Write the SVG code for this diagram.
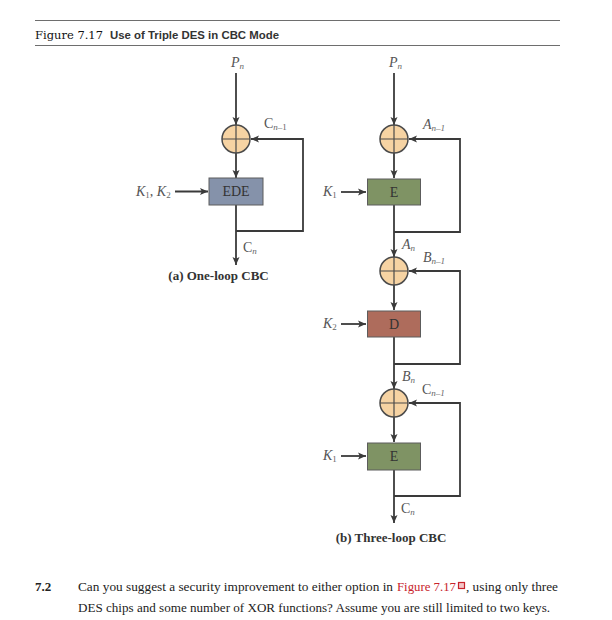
<svg xmlns="http://www.w3.org/2000/svg" width="612" height="620" viewBox="0 0 612 620">
<style>
text{font-family:"Liberation Serif","Times New Roman",serif;fill:#3c3c3c}
.rule{stroke:#6e6e6e;stroke-width:1;fill:none}
.c{fill:none;stroke:#3a3a3a;stroke-width:1.8}
.xor{fill:#f6d3a3;stroke:#4a4a4a;stroke-width:1.5}
.xl{stroke:#4a4a4a;stroke-width:1.2}
.box{stroke:#5c5c5c;stroke-width:1}
.lbl{font-size:14px;font-style:italic;fill:#555}
.lbl2{font-size:14px;fill:#555}
.sub{font-size:9px;fill:#666}
.bt{font-size:13px;font-weight:bold;text-anchor:middle;fill:#333}
.name{font-size:14px;text-anchor:middle;fill:#333}
.body{font-size:13px;fill:#222}
</style>
<defs>
<marker id="a" markerUnits="userSpaceOnUse" markerWidth="9" markerHeight="8" refX="8" refY="4" orient="auto"><path d="M0 0.5L8 4L0 7.5L1.8 4Z" fill="#3a3a3a"/></marker>
</defs>
<g id="header">
<line class="rule" x1="35" y1="20.500" x2="560" y2="20.500"/>
<line class="rule" x1="35" y1="45.500" x2="560" y2="45.500"/>
<text x="35" y="39" style="font-family:'DejaVu Serif',serif;font-size:11px;fill:#111" textLength="68" lengthAdjust="spacingAndGlyphs">Figure 7.17</text>
<text x="110" y="39" style="font-family:'Liberation Sans',sans-serif;font-size:11px;font-weight:bold;fill:#333" textLength="169" lengthAdjust="spacingAndGlyphs">Use of Triple DES in CBC Mode</text>
</g>
<g id="connectors">
<path class="c" marker-end="url(#a)" d="M236 73V125"/>
<path class="c" marker-end="url(#a)" d="M236 153V178"/>
<path class="c" marker-end="url(#a)" d="M175 191.500H208"/>
<path class="c" marker-end="url(#a)" d="M236 205V265"/>
<path class="c" marker-end="url(#a)" d="M236 231H303V139H251"/>
<path class="c" marker-end="url(#a)" d="M394 73V125"/>
<path class="c" marker-end="url(#a)" d="M394 153V178"/>
<path class="c" marker-end="url(#a)" d="M341 192H366"/>
<path class="c" marker-end="url(#a)" d="M394 205V257"/>
<path class="c" marker-end="url(#a)" d="M394 232H460V139H409"/>
<path class="c" marker-end="url(#a)" d="M394 285V310"/>
<path class="c" marker-end="url(#a)" d="M341 324H366"/>
<path class="c" marker-end="url(#a)" d="M394 337V389"/>
<path class="c" marker-end="url(#a)" d="M394 364H460V271H409"/>
<path class="c" marker-end="url(#a)" d="M394 417V442"/>
<path class="c" marker-end="url(#a)" d="M341 456H366"/>
<path class="c" marker-end="url(#a)" d="M394 470V523"/>
<path class="c" marker-end="url(#a)" d="M394 496H460V403H409"/>
</g>
<g id="xor-a">
<circle class="xor" cx="236" cy="139" r="14"/><path class="xl" d="M222 139H250M236 125V153"/>
</g>
<g id="xor-b1">
<circle class="xor" cx="394" cy="139" r="14"/><path class="xl" d="M380 139H408M394 125V153"/>
</g>
<g id="xor-b2">
<circle class="xor" cx="394" cy="271" r="14"/><path class="xl" d="M380 271H408M394 257V285"/>
</g>
<g id="xor-b3">
<circle class="xor" cx="394" cy="403" r="14"/><path class="xl" d="M380 403H408M394 389V417"/>
</g>
<g id="ede">
<rect class="box" x="209" y="178" width="54" height="27" fill="#8592aa"/>
<text class="name" x="236" y="196">EDE</text>
</g>
<g id="e1">
<rect class="box" x="367.500" y="179" width="53" height="26" fill="#7f9364"/>
<text class="name" x="394" y="196.500">E</text>
</g>
<g id="d">
<rect class="box" x="367.500" y="311" width="53" height="26" fill="#ae6c5c"/>
<text class="name" x="394" y="328.500">D</text>
</g>
<g id="e2">
<rect class="box" x="367.500" y="443" width="53" height="27" fill="#7f9364"/>
<text class="name" x="394" y="461">E</text>
</g>
<g id="labels">
<text class="lbl" x="231" y="67">P<tspan class="sub" dy="2">n</tspan></text>
<text class="lbl2" x="264" y="128">C<tspan class="sub" dy="2"><tspan font-style="italic">n</tspan>–1</tspan></text>
<text class="lbl" x="136" y="196">K<tspan class="sub" dy="2" font-style="normal">1</tspan><tspan dy="-2" font-style="normal">, </tspan>K<tspan class="sub" dy="2" font-style="normal">2</tspan></text>
<text class="lbl2" x="243" y="252">C<tspan class="sub" dy="2" font-style="italic">n</tspan></text>
<text class="bt" x="218.500" y="280">(a) One-loop CBC</text>
<text class="lbl" x="389" y="67">P<tspan class="sub" dy="2">n</tspan></text>
<text class="lbl" x="423" y="129">A<tspan class="sub" dy="2">n–1</tspan></text>
<text class="lbl" x="323" y="196">K<tspan class="sub" dy="2" font-style="normal">1</tspan></text>
<text class="lbl" x="402" y="249">A<tspan class="sub" dy="2">n</tspan></text>
<text class="lbl" x="423" y="262">B<tspan class="sub" dy="2">n–1</tspan></text>
<text class="lbl" x="323" y="328">K<tspan class="sub" dy="2" font-style="normal">2</tspan></text>
<text class="lbl" x="402" y="381">B<tspan class="sub" dy="2">n</tspan></text>
<text class="lbl2" x="422" y="394">C<tspan class="sub" dy="2" font-style="italic">n–1</tspan></text>
<text class="lbl" x="323" y="460">K<tspan class="sub" dy="2" font-style="normal">1</tspan></text>
<text class="lbl2" x="401" y="513">C<tspan class="sub" dy="2" font-style="italic">n</tspan></text>
<text class="bt" x="391" y="542">(b) Three-loop CBC</text>
</g>
<g id="question">
<text class="body" x="35" y="591" font-weight="bold">7.2</text>
<text class="body" x="78" y="591" textLength="315" lengthAdjust="spacingAndGlyphs">Can you suggest a security improvement to either option in</text>
<text class="body" x="397" y="591" style="fill:#c8232c" textLength="59" lengthAdjust="spacingAndGlyphs">Figure 7.17</text>
<rect x="458.500" y="582.500" width="6" height="6" fill="#f3c6c8" stroke="#c8232c" stroke-width="1.200"/>
<text class="body" x="466" y="591" textLength="92" lengthAdjust="spacingAndGlyphs">, using only three</text>
<text class="body" x="78" y="612" textLength="472" lengthAdjust="spacingAndGlyphs">DES chips and some number of XOR functions? Assume you are still limited to two keys.</text>
</g>
</svg>
